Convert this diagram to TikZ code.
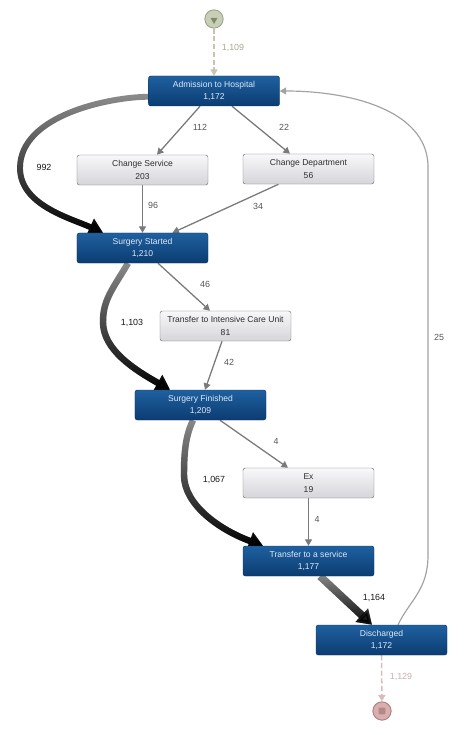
\documentclass[tikz,border=0pt]{standalone}
\usepackage{fontspec}
\setmainfont{Liberation Sans}
\usetikzlibrary{arrows.meta,positioning,calc,fadings,backgrounds,shapes.geometric}

\definecolor{acttop}{HTML}{1F60A0}
\definecolor{actbot}{HTML}{0B3C71}
\definecolor{actborder}{HTML}{0A3462}
\definecolor{acttext}{HTML}{DDE9F6}
\definecolor{subtop}{HTML}{F8F8FA}
\definecolor{subbot}{HTML}{D5D5DA}
\definecolor{subborder}{HTML}{707070}
\definecolor{subtext}{HTML}{2E2E2E}
\definecolor{thingray}{HTML}{7A7A7A}
\definecolor{backgray}{HTML}{A2A2A2}
\definecolor{lblgray}{HTML}{555555}
\definecolor{startfill}{HTML}{C8CFB6}
\definecolor{startdraw}{HTML}{9DA68C}
\definecolor{startmark}{HTML}{7E8B69}
\definecolor{startline}{HTML}{C9C3B2}
\definecolor{startlbl}{HTML}{ACA697}
\definecolor{stopfill}{HTML}{D9AEAE}
\definecolor{stopdraw}{HTML}{AE7F7F}
\definecolor{stopmark}{HTML}{B68787}
\definecolor{stopline}{HTML}{D6BEBE}
\definecolor{stoplbl}{HTML}{C8AEAE}

\tikzfading[name=fade down, top color=transparent!100, bottom color=transparent!0]

\begin{document}
\begin{tikzpicture}[x=0.03cm,y=-0.03cm,font=\fontsize{7.3}{10.8}\selectfont,
   act/.style={rectangle,rounded corners=2pt,draw=actborder,top color=acttop,
     bottom color=actbot,text=acttext,minimum width=3.93cm,minimum height=0.9cm,
     inner sep=0pt,align=center},
   sub/.style={act,draw=subborder,top color=subtop,bottom color=subbot,text=subtext},
   thin/.style={draw=thingray,line width=1.1pt,-{Triangle[length=5.5pt,width=6pt]}},
   back/.style={draw=backgray,line width=1pt,-{Triangle[length=5.5pt,width=6pt]}},
   flowbase/.style={line width=#1,draw=black!45,-{Triangle[length=12pt,width=15pt]}},
   flowdark/.style={line width=#1,draw=black,path fading=fade down,fit fading=true,
     -{Triangle[length=12pt,width=15pt]}},
   ends/.style={line width=1.3pt,dash pattern=on 4.3pt off 2.3pt,
     -{Triangle[length=5.5pt,width=6pt]}},
   lbl/.style={text=lblgray,inner sep=0pt,font=\fontsize{7.6}{9}\selectfont},
   flbl/.style={lbl,text=black!90}]
  \useasboundingbox (0,0) rectangle (474,735);
  % start and end markers
  \node[circle,fill=startfill,draw=startdraw,line width=0.8pt,minimum size=0.55cm,
    inner sep=0pt] (src) at (214,19) {};
  \node[regular polygon,regular polygon sides=3,shape border rotate=180,fill=startmark,
    minimum size=0.24cm,inner sep=0pt] (srcmark) at ($(src)+(0,1)$) {};
  \node[circle,fill=stopfill,draw=stopdraw,line width=0.8pt,minimum size=0.55cm,
    inner sep=0pt] (sink) at (382,711) {};
  \node[rectangle,rounded corners=0.6pt,fill=stopmark,minimum size=0.2cm,
    inner sep=0pt] (sinkmark) at (sink) {};
  % activities
  \node[act] (adm) at (214,91) {Admission to Hospital\\1,172};
  \node[sub] (cs) at (142.5,170) {Change Service\\203};
  \node[sub] (cd) at (308.5,169) {Change Department\\56};
  \node[act] (ss) at (142.5,248) {Surgery Started\\1,210};
  \node[sub] (icu) at (225.5,326) {Transfer to Intensive Care Unit\\81};
  \node[act] (sf) at (200.5,405) {Surgery Finished\\1,209};
  \node[sub] (ex) at (308.5,483) {Ex\\19};
  \node[act] (ts) at (308.5,561) {Transfer to a service\\1,177};
  \node[act] (dis) at (381.5,640) {Discharged\\1,172};
  % arcs
  \begin{scope}[on background layer]
    \draw[ends,draw=startline] (src) -- (adm.north);
    \draw[ends,draw=stopline] (dis.south) -- (sink);
    \draw[thin] ($(adm.south)+(-14,0)$) -- ($(cs.north)+(14.5,0)$);
    \draw[thin] ($(adm.south)+(18,0)$) -- ($(cd.north)+(-18.5,0)$);
    \draw[thin] (cs.south) -- (ss.north);
    \draw[thin] ($(cd.south)+(-30,0)$) -- ($(ss.north)+(30,0)$);
    \draw[thin] ($(ss.south)+(15.5,0)$) -- ($(icu.north)+(-15.5,0)$);
    \draw[thin] ($(icu.south)+(-3.5,0)$) -- ($(sf.north)+(4.5,0)$);
    \draw[thin] ($(sf.south)+(19.5,0)$) -- ($(ex.north)+(-20.5,0)$);
    \draw[thin] (ex.south) -- (ts.north);
    \draw[back] ($(dis.north)+(16.5,0)$) .. controls (410,600) and (428,590) .. (428,555)
      -- (428,165) .. controls (426,110) and (350,91) .. (adm.east);
    \foreach \st in {flowbase,flowdark}{
      \draw[\st=5pt] (adm.185) .. controls (110,97) and (20,115) .. (20,168)
        .. controls (20,205) and (70,218) .. ($(ss.north)+(-39.5,0)$);
      \draw[\st=5.5pt] ($(ss.south)+(-14.5,0)$) .. controls (112,290) and (103,300) .. (103,322)
        .. controls (103,350) and (135,370) .. ($(sf.north)+(-30.5,0)$);
      \draw[\st=5.5pt] ($(sf.south)+(-7.5,0)$) .. controls (186,435) and (184,450) .. (184,475)
        .. controls (184,505) and (220,530) .. ($(ts.north)+(-45.5,0)$);
      \draw[\st=6.5pt] ($(ts.south)+(11.5,0)$) -- ($(dis.north)+(-9.5,0)$);
    }
  \end{scope}
  % arc labels
  \node[lbl,text=startlbl] (l1109) at (233,48) {1,109};
  \node[lbl] (l112) at (200,127) {112};
  \node[lbl] (l22) at (284,127) {22};
  \node[flbl] (l992) at (44,167) {992};
  \node[lbl] (l96) at (153,205) {96};
  \node[lbl] (l34) at (258,206) {34};
  \node[lbl] (l46) at (205,284) {46};
  \node[flbl] (l1103) at (132,323) {1,103};
  \node[lbl] (l42) at (229,362) {42};
  \node[lbl] (l4a) at (276,441) {4};
  \node[flbl] (l1067) at (214,480) {1,067};
  \node[lbl] (l4b) at (317,519) {4};
  \node[flbl] (l1164) at (374,598) {1,164};
  \node[lbl] (l25) at (439,337) {25};
  \node[lbl,text=stoplbl] (l1129) at (401,677) {1,129};
\end{tikzpicture}
\end{document}
